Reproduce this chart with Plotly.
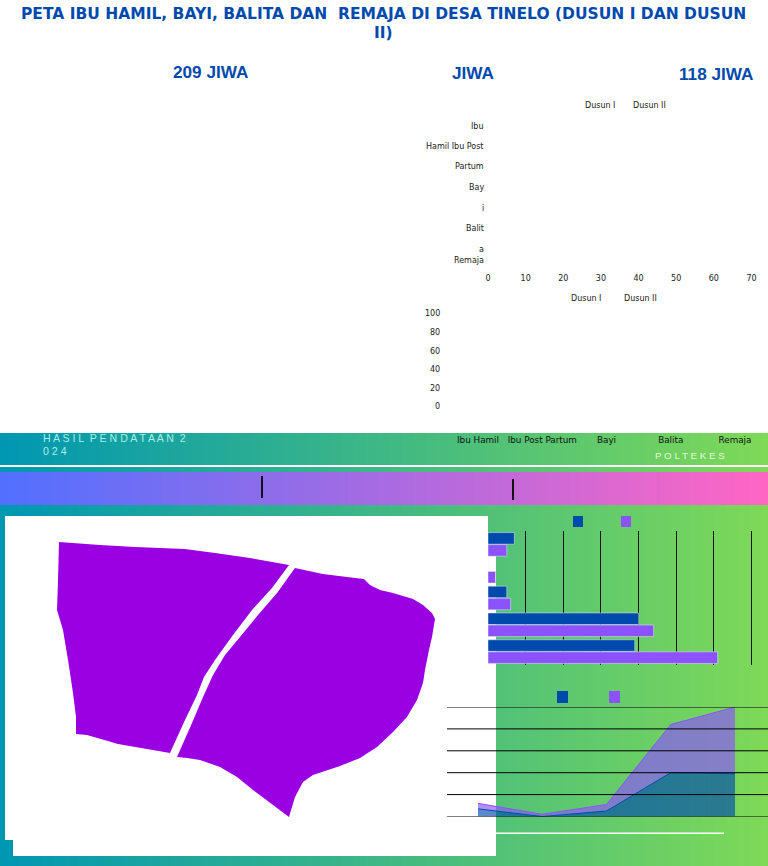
import numpy as np
import plotly.graph_objects as go

# Population counts per group and hamlet
categories = ["Ibu Hamil", "Ibu Post Partum", "Bayi", "Balita", "Remaja"]
dusun_1 = [7, 0, 5, 40, 39]
dusun_2 = [5, 2, 6, 44, 61]
bar_ticks = [0, 10, 20, 30, 40, 50, 60, 70]
area_ticks = [0, 20, 40, 60, 80, 100]

# Wrapped category labels beside the upper axis
wrapped_labels = ["Ibu", "Hamil Ibu Post", "Partum", "Bay", "i", "Balit", "a", "Remaja"]
wrapped_label_y = [126, 146, 166, 187, 208, 228, 249, 260]
area_tick_label_y = [406, 388, 369, 351, 332, 313]

# Outlines of the two hamlets on the map
dusun_1_x = [59, 100, 135, 185, 215, 250, 289, 272, 252, 233, 215, 204, 197, 185, 170, 118, 87, 76, 76, 73, 68, 63, 57, 58]
dusun_1_y = [542, 545, 547, 549, 553, 558, 565, 588, 610, 635, 660, 677, 695, 720, 753, 744, 735, 734, 717, 693, 660, 630, 610, 580]
dusun_2_x = [295, 323, 347, 364, 370, 380, 393, 413, 423, 432, 435, 432, 429, 425, 423, 417, 407, 393, 377, 360, 340, 313, 303, 295, 289, 273, 253, 237, 220, 200, 187, 177, 192, 203, 213, 225, 240, 258, 277]
dusun_2_y = [568, 574, 577, 579, 585, 590, 593, 599, 605, 613, 619, 637, 650, 670, 683, 700, 717, 732, 747, 758, 766, 775, 782, 797, 817, 805, 790, 777, 767, 760, 758, 757, 723, 697, 675, 655, 637, 615, 593]

BLUE = "#004AAD"
PURPLE = "#8C52FF"
MAP_PURPLE = "#9900E2"
W, H = 768, 866


def py(px):
    """Convert a distance from the page top to a paper fraction."""
    return 1 - px / H


fig = go.Figure()

# Page backgrounds
edges = np.linspace(0, W, 257).tolist()
ramp = [np.linspace(0, 1, 256).tolist()]
fig.add_trace(go.Heatmap(x=edges, y=[433, 866], z=ramp, showscale=False, hoverinfo="skip",
                         colorscale=[[0, "#0097B2"], [1, "#7ED957"]], xaxis="x", yaxis="y"))
fig.add_trace(go.Heatmap(x=edges, y=[472, 505], z=ramp, showscale=False, hoverinfo="skip",
                         colorscale=[[0, "#5170FF"], [1, "#FF66C4"]], xaxis="x", yaxis="y"))

# White map panels
for x0, x1, y0, y1 in [(5, 488, 516, 840), (13, 496, 555, 856)]:
    fig.add_trace(go.Scatter(x=[x0, x1, x1, x0], y=[y0, y0, y1, y1], fill="toself", mode="none",
                             fillcolor="white", hoverinfo="skip", showlegend=False, xaxis="x", yaxis="y"))

# Hamlet map
for xs, ys in [(dusun_1_x, dusun_1_y), (dusun_2_x, dusun_2_y)]:
    fig.add_trace(go.Scatter(x=xs, y=ys, fill="toself", mode="none", fillcolor=MAP_PURPLE,
                             hoverinfo="skip", showlegend=False, xaxis="x", yaxis="y"))

# Horizontal grouped bars
fig.add_trace(go.Bar(y=categories, x=dusun_1, name="Dusun I", orientation="h", marker_color=BLUE,
                     xaxis="x2", yaxis="y2", showlegend=False))
fig.add_trace(go.Bar(y=categories, x=dusun_2, name="Dusun II", orientation="h", marker_color=PURPLE,
                     xaxis="x2", yaxis="y2", showlegend=False))

# Stacked areas
fig.add_trace(go.Scatter(x=categories, y=dusun_1, name="Dusun I", stackgroup="one", mode="lines",
                         line=dict(color=BLUE, width=1), fillcolor="rgba(0,74,173,0.65)",
                         xaxis="x3", yaxis="y3", showlegend=False))
fig.add_trace(go.Scatter(x=categories, y=dusun_2, name="Dusun II", stackgroup="one", mode="lines",
                         line=dict(color=PURPLE, width=1), fillcolor="rgba(140,82,255,0.65)",
                         xaxis="x3", yaxis="y3", showlegend=False))

shapes = []
# Horizontal rules of the area chart sit above the fill
for t in area_ticks:
    shapes.append(dict(type="line", xref="paper", yref="y3", x0=447 / W, x1=1, y0=t, y1=t,
                       line=dict(color="black", width=1), layer="above"))

# Divider lines and ticks
shapes += [
    dict(type="rect", xref="x", yref="y", x0=0, x1=W, y0=465, y1=467, fillcolor="white", line_width=0),
    dict(type="rect", xref="x", yref="y", x0=496, x1=724, y0=832.5, y1=834, fillcolor="white", line_width=0),
    dict(type="rect", xref="x", yref="y", x0=261, x1=263, y0=476, y1=498, fillcolor="#111111", line_width=0),
    dict(type="rect", xref="x", yref="y", x0=512, x1=514, y0=479, y1=500, fillcolor="#111111", line_width=0),
]
# Legend swatches
for x0, x1, y0, y1, c in [(573, 583, 516, 527, BLUE), (621, 631, 516, 527, PURPLE),
                          (557, 568, 691, 703, BLUE), (609, 620, 691, 703, PURPLE)]:
    shapes.append(dict(type="rect", xref="x", yref="y", x0=x0, x1=x1, y0=y0, y1=y1, fillcolor=c, line_width=0))

annotations = []


def label(text, x, y, size=8, color="#222222", family="DejaVu Sans", anchor="center", bold=False):
    annotations.append(dict(text=f"<b>{text}</b>" if bold else text, x=x, y=y, xref="x", yref="y",
                            xanchor=anchor, yanchor="middle", showarrow=False, borderpad=0, borderwidth=0,
                            font=dict(family=family, size=size, color=color)))


label("PETA IBU HAMIL, BAYI, BALITA DAN\u00a0 REMAJA DI DESA TINELO (DUSUN I DAN DUSUN", 383, 14, 15.5, BLUE, bold=True)
label("II)", 383, 33, 15.5, BLUE, bold=True)
label("209 JIWA", 210, 72, 17.2, BLUE, "Liberation Sans", bold=True)
label("JIWA", 473, 73, 17.2, BLUE, "Liberation Sans", bold=True)
label("118 JIWA", 716, 74, 17.2, BLUE, "Liberation Sans", bold=True)
label("Dusun I", 600, 105)
label("Dusun II", 649, 105)
label("Dusun I", 586, 298)
label("Dusun II", 640, 298)
for text, y in zip(wrapped_labels, wrapped_label_y):
    label(text, 483.5, y + 0.5, anchor="right")
for t, y in zip(area_ticks, area_tick_label_y):
    label(str(t), 440, y + 0.5, anchor="right")
label("H A S I L  P E N D A T A A N  2", 43, 438, 10.6, "#A8F0E4", "Liberation Sans", anchor="left")
label("0 2 4", 43, 451, 10.6, "#A8F0E4", "Liberation Sans", anchor="left")
label("P O L T E K E S", 655, 455, 9.8, "#E4F8D8", "Liberation Sans", anchor="left")

fig.update_layout(
    width=W, height=H, margin=dict(l=0, r=0, t=0, b=0, autoexpand=False), autosize=False,
    paper_bgcolor="white", plot_bgcolor="rgba(0,0,0,0)",
    barmode="group", bargap=0.1, bargroupgap=0.04,
    shapes=shapes, annotations=annotations,
    xaxis=dict(domain=[0, 1], range=[0, W], visible=False),
    yaxis=dict(domain=[0, 1], range=[H, 0], visible=False),
    # The range runs past the last tick so that the grid line at 70 is kept
    xaxis2=dict(domain=[488 / W, 759 / W], range=[0, 72], anchor="free", position=py(271.5), tickvals=bar_ticks,
                showgrid=True, gridcolor="#111111", gridwidth=1, zeroline=False, showline=False,
                ticks="", tickfont=dict(family="DejaVu Sans", size=8, color="#222222")),
    yaxis2=dict(domain=[py(665), py(531)], type="category", categoryorder="array", categoryarray=categories,
                range=[4.5, -0.5], anchor="x2", showticklabels=False, showgrid=False, zeroline=False, ticks=""),
    xaxis3=dict(domain=[447 / W, 1], type="category", categoryorder="array", categoryarray=categories,
                range=[-0.4825, 4.5136], anchor="free", position=py(433.5), showgrid=False, zeroline=False, ticks="",
                tickangle=0, tickfont=dict(family="DejaVu Sans", size=8.8, color="#111111")),
    yaxis3=dict(domain=[py(816.5), py(707)], range=[0, 100], anchor="x3", showticklabels=False,
                showgrid=False, zeroline=False, ticks=""),
    hovermode="closest",
)

fig.write_html("out.html")
